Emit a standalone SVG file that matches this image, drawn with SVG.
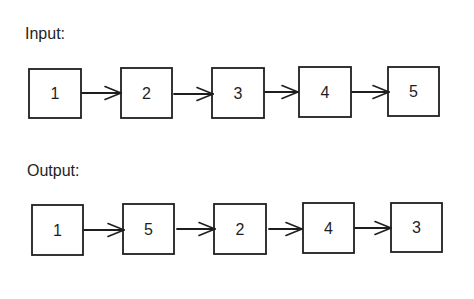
<svg xmlns="http://www.w3.org/2000/svg" width="474" height="299" viewBox="0 0 474 299">
<style>
.box rect{fill:#fff;stroke:#1e1e1e;stroke-width:1.8}
.box text{font-family:"Liberation Sans",Arial,sans-serif;font-size:16px;fill:#1e1e1e;text-anchor:middle;dominant-baseline:central}
.label{font-family:"Liberation Sans",Arial,sans-serif;font-size:16px;fill:#1e1e1e}
#connectors path{fill:none;stroke:#1e1e1e;stroke-width:1.8;stroke-linecap:round}
</style>
<defs>
<marker id="arr" viewBox="0 0 18 16" refX="17" refY="8" markerWidth="18" markerHeight="16" markerUnits="userSpaceOnUse" orient="auto">
<path d="M1 1.5 L17 8 L1 14.5" fill="none" stroke="#1e1e1e" stroke-width="1.6" stroke-linecap="round" stroke-linejoin="round"/>
</marker>
</defs>
<rect width="474" height="299" fill="#fff"/>
<text class="label" x="25" y="39">Input:</text>
<text class="label" x="27" y="176">Output:</text>
<g id="in1" class="box"><rect x="29" y="69" width="52" height="49"/><text x="55" y="93.5">1</text></g>
<g id="in2" class="box"><rect x="121" y="68" width="51" height="50"/><text x="146.5" y="93">2</text></g>
<g id="in3" class="box"><rect x="212" y="68" width="52" height="50"/><text x="238" y="93">3</text></g>
<g id="in4" class="box"><rect x="299" y="67" width="52" height="50"/><text x="325" y="92">4</text></g>
<g id="in5" class="box"><rect x="388" y="67" width="51" height="49"/><text x="413.5" y="91.5">5</text></g>
<g id="out1" class="box"><rect x="32" y="205" width="51" height="50"/><text x="57.5" y="230">1</text></g>
<g id="out2" class="box"><rect x="123" y="204" width="51" height="50"/><text x="148.5" y="229">5</text></g>
<g id="out3" class="box"><rect x="214" y="204" width="52" height="50"/><text x="240" y="229">2</text></g>
<g id="out4" class="box"><rect x="303" y="203" width="51" height="50"/><text x="328.5" y="228">4</text></g>
<g id="out5" class="box"><rect x="391" y="203" width="51" height="49"/><text x="416.5" y="227.5">3</text></g>
<g id="connectors">
<path d="M82 93 L121 93" marker-end="url(#arr)"/>
<path d="M174 94 L213 94" marker-end="url(#arr)"/>
<path d="M265 92 L298 92" marker-end="url(#arr)"/>
<path d="M352 92 L389 92" marker-end="url(#arr)"/>
<path d="M84 230 L124 230" marker-end="url(#arr)"/>
<path d="M177 229 L215 229" marker-end="url(#arr)"/>
<path d="M269 229 L302 229" marker-end="url(#arr)"/>
<path d="M355 228 L391 228" marker-end="url(#arr)"/>
</g>
</svg>
